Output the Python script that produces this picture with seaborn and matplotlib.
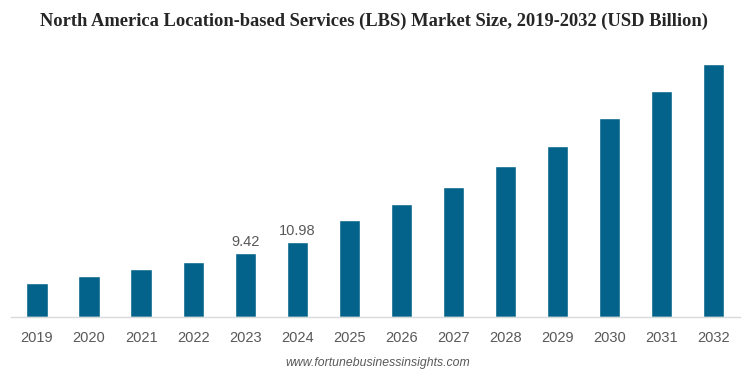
import matplotlib
matplotlib.use("Agg")
import matplotlib.pyplot as plt
import seaborn as sns
import pandas as pd

years = ["2019", "2020", "2021", "2022", "2023", "2024", "2025",
         "2026", "2027", "2028", "2029", "2030", "2031", "2032"]
market_size = [5.02, 6.0, 6.98, 8.05, 9.42, 10.98, 14.15,
               16.5, 19.0, 22.1, 25.0, 29.1, 33.1, 37.1]
labelled_years = ["2023", "2024"]

sns.set_theme(style="white")
plt.rcParams["font.family"] = ["Liberation Sans", "DejaVu Sans"]

df = pd.DataFrame({"year": years, "size": market_size})

fig = plt.figure(figsize=(7.48, 3.74), dpi=100)
ax = fig.add_axes([0.0147, 0.1524, 0.9743, 0.7306])

sns.barplot(data=df, x="year", y="size", color="#04638a", saturation=1,
            width=0.41, ax=ax)

# value labels only for the base / estimate years
for i, (yr, v) in enumerate(zip(years, market_size)):
    if yr in labelled_years:
        ax.text(i, v + 0.6, f"{v:.2f}", ha="center", va="bottom",
                fontsize=10.5, color="#595959")

ax.set_ylim(0, 40)
ax.set_xlim(-0.5, len(years) - 0.5)
ax.set_xlabel("")
ax.set_ylabel("")
ax.set_yticks([])
ax.tick_params(axis="x", length=0, labelsize=10.5, labelcolor="#595959", pad=10)
for s in ["top", "right", "left"]:
    ax.spines[s].set_visible(False)
ax.spines["bottom"].set_color("#d9d9d9")
ax.spines["bottom"].set_linewidth(1)

fig.text(0.5, 0.943, "North America Location-based Services (LBS) Market Size, 2019-2032 (USD Billion)",
         ha="center", va="center", fontsize=13.3, fontweight="bold",
         family=["Liberation Serif", "DejaVu Serif"], color="#262626")
fig.text(0.505, 0.03, "www.fortunebusinessinsights.com", ha="center", va="center",
         fontsize=8.8, style="italic", color="#595959")

fig.savefig("out.png", dpi=100)
